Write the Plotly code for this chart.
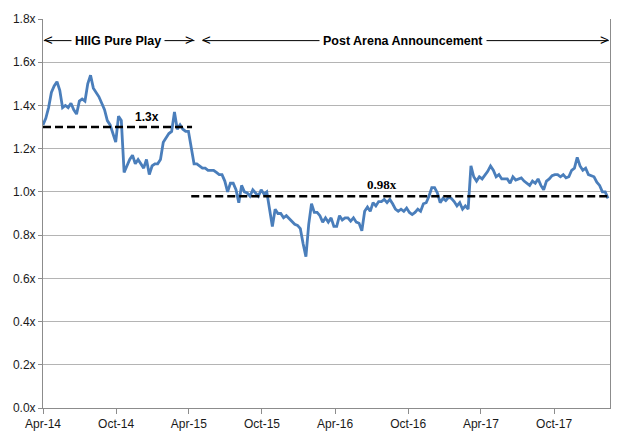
import pandas as pd
import plotly.graph_objects as go

start_date = "2014-04-01"
multiple = [
    1.31, 1.34, 1.39, 1.46, 1.49, 1.51, 1.47, 1.39, 1.40, 1.39,
    1.41, 1.38, 1.36, 1.42, 1.43, 1.42, 1.50, 1.54, 1.48, 1.46,
    1.44, 1.41, 1.38, 1.33, 1.31, 1.27, 1.23, 1.35, 1.33, 1.09,
    1.12, 1.15, 1.17, 1.13, 1.15, 1.13, 1.11, 1.15, 1.08, 1.12,
    1.13, 1.13, 1.15, 1.23, 1.25, 1.27, 1.28, 1.37, 1.29, 1.31,
    1.29, 1.28, 1.28, 1.21, 1.13, 1.13, 1.12, 1.11, 1.11, 1.10,
    1.10, 1.10, 1.09, 1.08, 1.08, 1.05, 1.00, 1.04, 1.04, 1.01,
    0.95, 1.03, 1.00, 0.995, 0.98, 1.01, 0.995, 0.98, 1.01, 0.99,
    1.00, 0.92, 0.84, 0.92, 0.90, 0.90, 0.88, 0.89, 0.875, 0.86,
    0.85, 0.845, 0.83, 0.76, 0.70, 0.85, 0.945, 0.905, 0.905, 0.89,
    0.86, 0.88, 0.86, 0.88, 0.84, 0.84, 0.89, 0.87, 0.88, 0.88,
    0.865, 0.88, 0.86, 0.855, 0.82, 0.91, 0.93, 0.91, 0.95, 0.935,
    0.955, 0.955, 0.965, 0.95, 0.965, 0.945, 0.92, 0.91, 0.92, 0.91,
    0.925, 0.905, 0.895, 0.905, 0.92, 0.91, 0.945, 0.95, 0.98, 1.02,
    1.02, 0.995, 0.95, 0.97, 0.96, 0.975, 0.97, 0.955, 0.935, 0.95,
    0.92, 0.935, 0.92, 1.12, 1.07, 1.05, 1.07, 1.06, 1.075, 1.095,
    1.12, 1.10, 1.07, 1.08, 1.06, 1.06, 1.06, 1.04, 1.07, 1.055,
    1.06, 1.065, 1.05, 1.04, 1.03, 1.05, 1.04, 1.06, 1.03, 1.01,
    1.05, 1.06, 1.075, 1.08, 1.08, 1.07, 1.08, 1.065, 1.07, 1.10,
    1.11, 1.16, 1.12, 1.10, 1.11, 1.08, 1.075, 1.07, 1.045, 1.03,
    1.00, 1.00, 0.97,
]
dates = pd.date_range(start_date, periods=len(multiple), freq="7D")

# Period averages
pre_period = ["2014-04-01", "2015-04-09"]
pre_avg = [1.30, 1.30]
post_period = ["2015-04-07", "2018-02-18"]
post_avg = [0.98, 0.98]

# Axis ticks
x_tickvals = ["2014-04-01", "2014-10-01", "2015-04-01", "2015-10-01",
              "2016-04-01", "2016-10-01", "2017-04-01", "2017-10-01"]
x_ticktext = ["Apr-14", "Oct-14", "Apr-15", "Oct-15",
              "Apr-16", "Oct-16", "Apr-17", "Oct-17"]
y_tickvals = [0.0, 0.2, 0.4, 0.6, 0.8, 1.0, 1.2, 1.4, 1.6, 1.8]
y_ticktext = ["0.0x", "0.2x", "0.4x", "0.6x", "0.8x", "1.0x",
              "1.2x", "1.4x", "1.6x", "1.8x"]

fig = go.Figure()
fig.add_trace(go.Scatter(x=dates, y=multiple, mode="lines",
                         line=dict(color="#4A7EBB", width=2.8),
                         showlegend=False, hoverinfo="skip"))
fig.add_trace(go.Scatter(x=pre_period, y=pre_avg, mode="lines",
                         line=dict(color="black", width=2.5, dash="8px,4px"),
                         showlegend=False, hoverinfo="skip"))
fig.add_trace(go.Scatter(x=post_period, y=post_avg, mode="lines",
                         line=dict(color="black", width=2.5, dash="8px,4px"),
                         showlegend=False, hoverinfo="skip"))

font_axis = dict(family="Liberation Sans, Arial", size=12, color="#1a1a1a")

fig.update_layout(
    width=624, height=443,
    margin=dict(l=43, r=14, t=14, b=32),
    paper_bgcolor="white", plot_bgcolor="white",
    xaxis=dict(type="date", range=["2014-04-01", "2018-02-18"],
               tickvals=x_tickvals, ticktext=x_ticktext,
               showgrid=False, zeroline=False,
               showline=True, linecolor="#8C8C8C", linewidth=1,
               ticks="outside", ticklen=5, tickcolor="#8C8C8C",
               tickfont=font_axis),
    yaxis=dict(range=[0, 1.8], tickvals=y_tickvals, ticktext=y_ticktext,
               showgrid=True, gridcolor="#B4B4B4", gridwidth=1,
               zeroline=False, showline=True, linecolor="#8C8C8C",
               linewidth=1, mirror=True,
               ticks="outside", ticklen=4, tickcolor="#8C8C8C",
               tickfont=font_axis),
)

bold_font = dict(family="Liberation Sans, Arial", size=12.5, color="black")
chev_font = dict(family="Liberation Sans, Arial", size=15, color="black")

# Double-headed arrows for the two periods (line + open chevrons)
for x0, x1 in [("2014-04-03", "2015-04-15"), ("2015-05-05", "2018-02-15")]:
    fig.add_shape(type="line", xref="x", yref="y", x0=x0, x1=x1,
                  y0=1.70, y1=1.70, line=dict(color="black", width=1))
    fig.add_annotation(x=x0, y=1.70, text="&lt;", showarrow=False,
                       xanchor="left", yanchor="middle", font=chev_font,
                       xshift=-2, yshift=1)
    fig.add_annotation(x=x1, y=1.70, text="&gt;", showarrow=False,
                       xanchor="right", yanchor="middle", font=chev_font,
                       xshift=2, yshift=1)

fig.add_annotation(x="2014-10-06", y=1.70, text="<b>HIIG Pure Play</b>",
                   showarrow=False, font=bold_font, bgcolor="white", borderpad=3)
fig.add_annotation(x="2016-09-19", y=1.70, text="<b>Post Arena Announcement</b>",
                   showarrow=False, font=bold_font, bgcolor="white", borderpad=3)

fig.add_annotation(x="2014-12-18", y=1.345, text="<b>1.3x</b>", showarrow=False,
                   font=dict(family="Liberation Sans, Arial", size=12, color="black"))
fig.add_annotation(x="2016-07-28", y=1.036, text="<b>0.98x</b>", showarrow=False,
                   font=dict(family="Liberation Serif, Times New Roman", size=13,
                             color="black"))

fig.write_html("out.html")
